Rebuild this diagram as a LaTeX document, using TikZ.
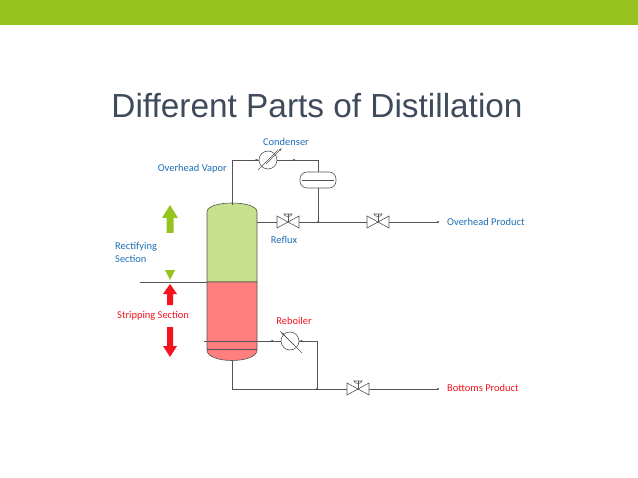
\documentclass[tikz,border=0pt]{standalone}
\usepackage{fontspec}
\setmainfont{Carlito}
\newfontfamily\titlefont{Liberation Sans}
\usetikzlibrary{arrows.meta}
\definecolor{bar}{HTML}{97C31F}
\definecolor{titlec}{HTML}{3F4B5B}
\definecolor{lblue}{HTML}{1F6FB5}
\definecolor{lred}{HTML}{F5141E}
\definecolor{gfill}{HTML}{C6E08C}
\definecolor{rfill}{HTML}{FF7F7F}
\definecolor{pipe}{HTML}{555555}
\begin{document}
\begin{tikzpicture}[x=1bp,y=-1bp,
  pipeline/.style={draw=pipe,line width=0.6bp},
  lbl/.style={font=\fontsize{10.5}{12}\selectfont,inner sep=0},
  dotend/.style={fill=pipe,circle,inner sep=0.8bp},
  valvebox/.style={draw=pipe,line width=0.6bp,fill=white}]
\useasboundingbox (0,0) rectangle (638,478);
\fill[bar] (0,0) rectangle (638,25);
\node[titlec,font=\titlefont\fontsize{33.5}{35}\selectfont] (title) at (317,106) {Different Parts of Distillation};
% column
\draw[pipe,fill=gfill,line width=0.6bp] (207,282) -- (207,212) .. controls (207,200) and (257,200) .. (257,212) -- (257,282) -- cycle;
\draw[pipe,fill=rfill,line width=0.6bp] (207,282) -- (207,350) .. controls (207,364) and (257,364) .. (257,350) -- (257,282) -- cycle;
\draw[pipe,line width=0.4bp] (207,349) -- (257,349);
% feed
\draw[pipeline] (140,282) -- (207,282);
% top piping
\coordinate (ctop) at (232,205);
\node[circle,valvebox,minimum size=18bp] (cond) at (268,160) {};
\draw[pipe,line width=0.6bp] (258,170) -- (278,150);
\draw[pipe,-{Latex[length=3bp]},line width=0.6bp] (266,164) -- (282,148);
\draw[pipeline] (ctop) -- (232,160) -- (cond.west);
\draw[pipeline] (cond.east) -- (318,160) -- (318,172);
\draw[valvebox,rounded corners=7bp] (300,172) rectangle (336,188);
\draw[pipe,line width=0.4bp] (302,180) -- (334,180);
\draw[pipeline] (318,188) -- (318,222);
\coordinate (ohend) at (438,222);
\draw[pipeline] (257,222) -- (ohend);
\node[dotend] at (ohend) {};
\node[dotend] at (318,222) {};
\foreach \vx in {288,378}{
  \draw[valvebox] (\vx-11,216) -- (\vx+11,228) -- (\vx+11,216) -- (\vx-11,228) -- cycle;
  \draw[pipe,line width=0.6bp] (\vx,222) -- (\vx,214);
  \draw[pipe,line width=0.6bp] (\vx-4,214) arc(180:0:4 and 2.5) -- cycle;
}
% bottom piping
\node[circle,valvebox,minimum size=18bp] (reb) at (290,341) {};
\draw[pipe,line width=0.6bp] (280,331) -- (302,353);
\draw[pipe,-{Latex[length=3bp]},line width=0.6bp] (294,345) -- (281,332);
\draw[pipeline] (204,341) -- (reb.west);
\draw[pipeline] (reb.east) -- (317,341) -- (317,389);
\draw[pipe,-{Latex[length=3bp]}] (reb.west) -- (270,341);
\draw[pipe,-{Latex[length=3bp]}] (315,341) -- (reb.east);
\draw[pipe,-{Latex[length=3bp]}] (250,160) -- (cond.west);
\draw[pipe,-{Latex[length=3bp]}] (cond.east) -- (296,160);
\coordinate (bend) at (438,389);
\draw[pipeline] (232,360) -- (232,389) -- (bend);
\node[dotend] at (bend) {};
\node[dotend] at (317,389) {};
\draw[valvebox] (347,383) -- (369,395) -- (369,383) -- (347,395) -- cycle;
\draw[pipe,line width=0.6bp] (358,389) -- (358,381);
\draw[pipe,line width=0.6bp] (354,381) arc(180:0:4 and 2.5) -- cycle;
% labels
\node[lbl,lblue] (lcond) at (286,142) {Condenser};
\node[lbl,lblue,anchor=east] (lov) at (227,169) {Overhead Vapor};
\node[lbl,lblue,anchor=west] (lop) at (447,222) {Overhead Product};
\node[lbl,lblue] (lref) at (284,240) {Reflux};
\node[lbl,lblue,anchor=west,align=left] (lrect) at (115,252) {Rectifying\\[1bp]Section};
\node[lbl,lred,anchor=west] (lstrip) at (117,316) {Stripping Section};
\node[lbl,lred] (lreb) at (294,321) {Reboiler};
\node[lbl,lred,anchor=west] (lbp) at (447,388) {Bottoms Product};
% section arrows
\fill[bar] (170,205) -- (178,218) -- (173.5,218) -- (173.5,233) -- (166.5,233) -- (166.5,218) -- (162,218) -- cycle;
\fill[bar] (165,270) -- (175,270) -- (170,280) -- cycle;
\fill[lred] (170,284) -- (177,294) -- (173,294) -- (173,305) -- (167,305) -- (167,294) -- (163,294) -- cycle;
\fill[lred] (170,357) -- (177,346) -- (173,346) -- (173,327) -- (167,327) -- (167,346) -- (163,346) -- cycle;
\end{tikzpicture}
\end{document}
